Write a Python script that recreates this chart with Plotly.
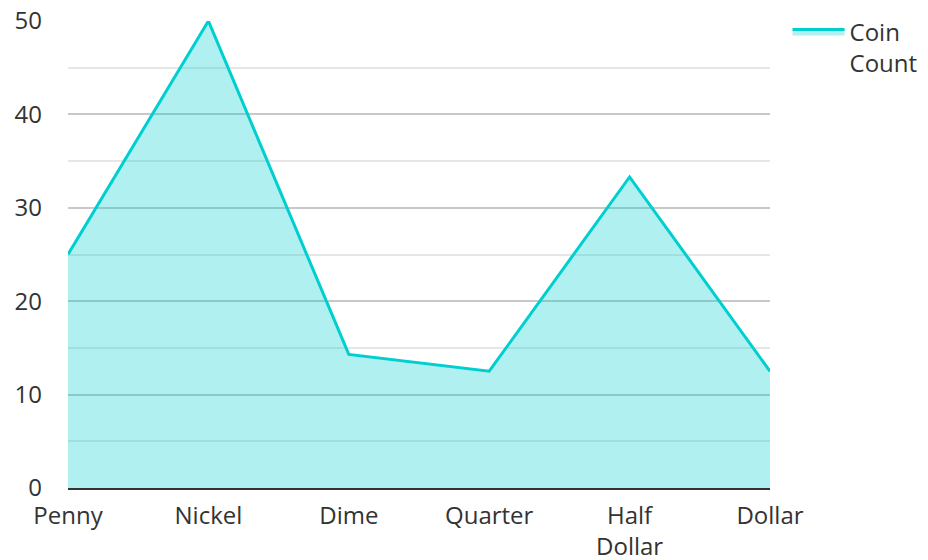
import plotly.graph_objects as go

categories = ["Penny", "Nickel", "Dime", "Quarter", "Half<br>Dollar", "Dollar"]
coin_count = [25, 50, 14.3, 12.5, 33.3, 12.5]
series_name = "Coin<br>Count"

fig = go.Figure()
fig.add_trace(go.Scatter(
    x=categories, y=coin_count, name=series_name, mode="lines",
    fill="tozeroy", line=dict(color="#00cfd0", width=3),
    fillcolor="rgba(0,207,208,0.31)",
))

font_family = "Open Sans, Noto Sans, sans-serif"
fig.update_layout(
    width=928, height=560,
    margin=dict(l=68, r=158, t=21, b=72, autoexpand=False),
    paper_bgcolor="white", plot_bgcolor="white",
    font=dict(family=font_family, size=24, color="#333333"),
    showlegend=True,
    legend=dict(x=1.025, y=1.025, xanchor="left", yanchor="top", itemwidth=52,
                valign="top", font=dict(size=24, color="#333333"), tracegroupgap=0),
    xaxis=dict(range=[0, 5], showgrid=False, showline=True, linecolor="#333333",
               linewidth=2, ticks="", tickfont=dict(size=24), zeroline=False,
               ticklabelstandoff=5, automargin=False),
    yaxis=dict(range=[0, 50], dtick=10, showgrid=True, gridcolor="#c8c8c8",
               gridwidth=1.5, zeroline=False, showline=False, ticks="",
               ticklabelstandoff=25, tickfont=dict(size=24), automargin=False,
               minor=dict(dtick=5, showgrid=True, gridcolor="#e6e6e6", gridwidth=1.5)),
)
fig.write_html("out.html")
